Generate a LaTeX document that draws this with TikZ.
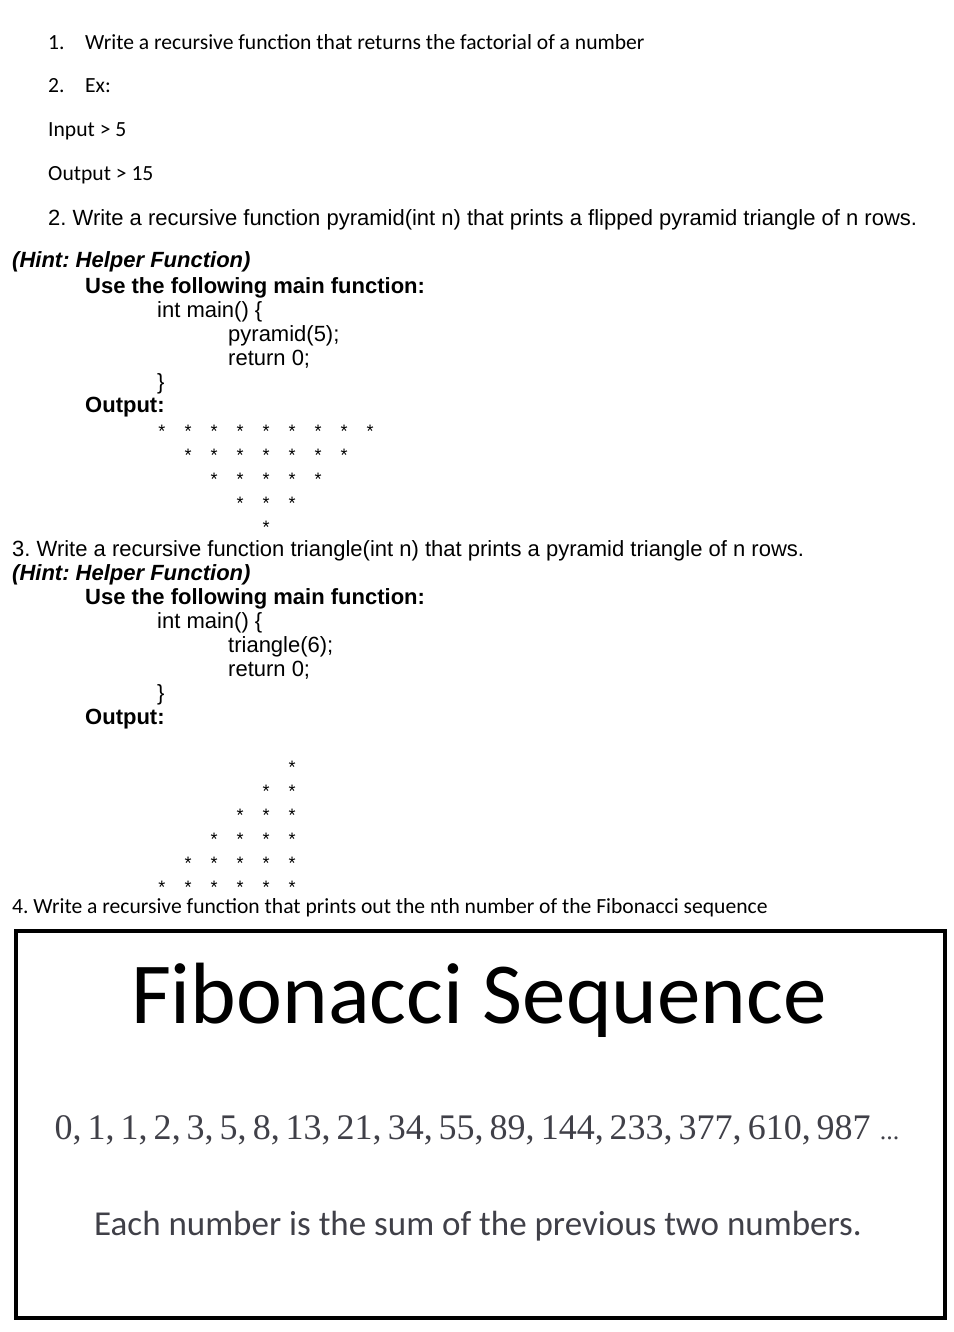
\documentclass[tikz,border=0pt]{standalone}
\usepackage{fontspec}
\setmainfont{Liberation Sans}
\newfontfamily\calfam{Carlito}
\newfontfamily\serifnum{Liberation Serif}
\definecolor{fibgray}{HTML}{404048}
\begin{document}
\frenchspacing
\begin{tikzpicture}[x=1pt,y=-1pt,
  t/.style={anchor=base west,inner sep=0pt},
  c/.style={t,font=\calfam\fontsize{21.6}{24}\selectfont},
  a/.style={t,font=\fontsize{22}{24}\selectfont},
  ab/.style={t,font=\bfseries\fontsize{22}{24}\selectfont},
  st/.style={inner sep=0pt,font=\fontsize{18}{18}\selectfont}]
\useasboundingbox (0,0) rectangle (953,1332);
\node[c] (n1) at (48,50) {1.};
\node[c] (l1) at (85,50) {Write a recursive function that returns the factorial of a number};
\node[c] (n2) at (48,93) {2.};
\node[c] (ex) at (85,93) {Ex:};
\node[c] (in) at (48,137) {Input > 5};
\node[c] (out) at (48,181) {Output > 15};
\node[a] (q2) at (48,226) {2. Write a recursive function pyramid(int n) that prints a flipped pyramid triangle of n rows.};
\node[t,font=\bfseries\itshape\fontsize{22}{24}\selectfont] (h2) at (12,268) {(Hint: Helper Function)};
\node[ab] (u2) at (85,293) {Use the following main function:};
\node[a] (m2) at (157,317) {int main() \{};
\node[a] (p2) at (228,341) {pyramid(5);};
\node[a] (r2) at (228,365) {return 0;};
\node[a] (b2) at (157,389) {\}};
\node[ab] (o2) at (85,412) {Output:};
\foreach \r/\y in {0/431,1/455,2/479,3/503,4/527}{
  \pgfmathtruncatemacro{\n}{8-2*\r}
  \foreach \k in {0,...,\n}{
    \node[st] (p\r-\k) at ({162+26*\r+26*\k},\y) {*};}}
\node[a] (q3) at (12,556) {3. Write a recursive function triangle(int n) that prints a pyramid triangle of n rows.};
\node[t,font=\bfseries\itshape\fontsize{22}{24}\selectfont] (h3) at (12,580) {(Hint: Helper Function)};
\node[ab] (u3) at (85,604) {Use the following main function:};
\node[a] (m3) at (157,628) {int main() \{};
\node[a] (p3) at (228,652) {triangle(6);};
\node[a] (r3) at (228,676) {return 0;};
\node[a] (b3) at (157,700) {\}};
\node[ab] (o3) at (85,724) {Output:};
\foreach \r/\y in {0/767,1/791,2/815,3/839,4/863,5/887}{
  \foreach \k in {0,...,\r}{
    \node[st] (t\r-\k) at ({292-26*\k},\y) {*};}}
\node[c] (q4) at (12,913) {4. Write a recursive function that prints out the nth number of the Fibonacci sequence};
\draw[line width=4] (16,931) rectangle (945,1318);
\node[inner sep=0pt,font=\calfam\fontsize{87}{95}\selectfont] (ft) at (479,1000) {Fibonacci Sequence};
\node[inner sep=0pt,font=\serifnum\fontsize{36}{40}\selectfont,text=fibgray] (fn) at (477,1130) {0,\,1,\,1,\,2,\,3,\,5,\,8,\,13,\,21,\,34,\,55,\,89,\,144,\,233,\,377,\,610,\,987 \fontsize{26}{30}\selectfont...};
\node[inner sep=0pt,font=\calfam\fontsize{35}{40}\selectfont,text=fibgray] (fe) at (478,1226) {Each number is the sum of the previous two numbers.};
\end{tikzpicture}
\end{document}
